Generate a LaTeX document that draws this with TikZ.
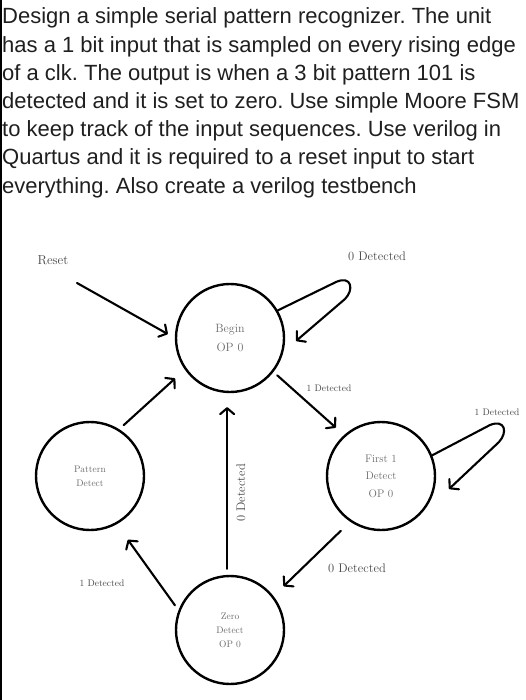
\documentclass[tikz,border=0pt]{standalone}
\usepackage{fontspec}
\newfontfamily\taskfont{Liberation Sans}
\usetikzlibrary{arrows.meta}
\frenchspacing
\begin{document}
\begin{tikzpicture}[x=1pt,y=-1pt,
 state/.style={circle,draw,line width=2.4pt,minimum size=108pt,inner sep=0pt,align=center,text=black!58},
 edge/.style={line width=2.1pt,line cap=round,-{Straight Barb[length=6pt,width=14pt,round]}},
 lbl/.style={text=black!72,inner sep=0pt},
 zerolbl/.style={lbl,font=\fontsize{12.5}{14}\selectfont},
 onelbl/.style={lbl,font=\fontsize{9.5}{11}\selectfont}]
\useasboundingbox (0,0) rectangle (526,700);
\draw[line width=2pt] (1,0)--(1,700);
\node[anchor=base west,inner sep=0pt,align=left,text=black!88,font=\taskfont\fontsize{22}{28.2}\selectfont] (task) at (2,193.2) {Design a simple serial pattern recognizer. The unit\\
has a 1 bit input that is sampled on every rising edge\\
of a clk. The output is when a 3 bit pattern 101 is\\
detected and it is set to zero. Use simple Moore FSM\\
to keep track of the input sequences. Use verilog in\\
Quartus and it is required to a reset input to start\\
everything. Also create a verilog testbench};
\node[state,font=\fontsize{12}{19}\selectfont] (begin) at (230,338) {Begin\\OP 0};
\node[state,font=\fontsize{9.5}{14}\selectfont] (pattern) at (90,476) {Pattern\\Detect};
\node[state,font=\fontsize{11}{17.5}\selectfont] (first) at (381,476) {First 1\\Detect\\OP 0};
\node[state,font=\fontsize{9.5}{14}\selectfont] (zero) at (230,630) {Zero\\Detect\\OP 0};
\node[lbl,font=\fontsize{13}{15}\selectfont] (reset) at (53,260) {Reset};
\node[zerolbl] (lzerotop) at (377,256) {0 Detected};
\node[onelbl] (lonebegin) at (329,388) {1 Detected};
\node[onelbl] (lonefirst) at (497,412) {1 Detected};
\node[zerolbl,rotate=90] (lzeromid) at (241,493) {0 Detected};
\node[zerolbl] (lzerofirst) at (357,568) {0 Detected};
\node[onelbl] (lonezero) at (102,583) {1 Detected};
\coordinate (rst) at (77,283);
\coordinate (beginloop) at (296,341);
\coordinate (firstloop) at (449,489);
\draw[edge,shorten >=8pt] (rst) -- (begin.180);
\draw[edge] (begin.30) -- (336,282) .. controls (352,275) and (354,290) .. (345,299) -- (beginloop);
\draw[edge,shorten <=5pt,shorten >=11pt] (begin.-38) -- (first.132);
\draw[edge] (first.22) -- (490,425) .. controls (505,419) and (508,432) .. (499,442) -- (firstloop);
\draw[edge,shorten <=13pt,shorten >=14pt] (first.236) -- (zero.38);
\draw[edge,shorten <=6pt,shorten >=19pt] (zero.159) -- (pattern.-61);
\draw[edge,shorten <=6pt,shorten >=13pt] (pattern.58) -- (begin.215);
\draw[edge,shorten <=6pt,shorten >=14pt] (zero.93) -- (begin.267);
\end{tikzpicture}
\end{document}
